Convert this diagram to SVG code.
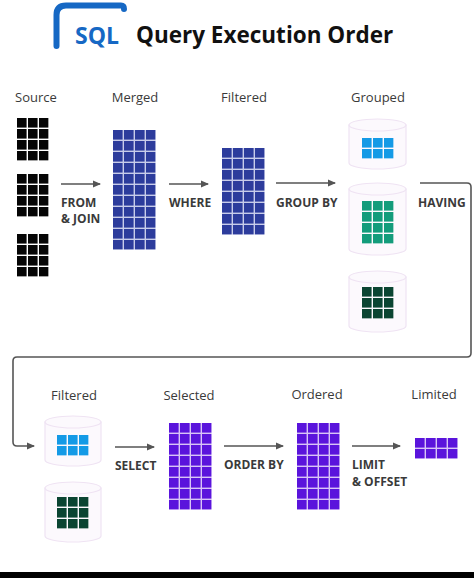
<svg xmlns="http://www.w3.org/2000/svg" width="474" height="578" viewBox="0 0 474 578">
<defs>
<style>
.ttl{font-family:"Open Sans","Liberation Sans",sans-serif;font-size:13px;fill:#3a3a3a;text-anchor:middle}
.lbl{font-family:"Open Sans","Liberation Sans",sans-serif;font-size:12px;font-weight:bold;fill:#3a3a3a}
.conn{fill:none;stroke:#555;stroke-width:1.6}
.cyl{fill:#fcf9fd;stroke:#efe3f3;stroke-width:1.2}
</style>
<marker id="ah" markerWidth="8" markerHeight="8" refX="7" refY="4" orient="auto" markerUnits="userSpaceOnUse">
<path d="M0,0.5 L8,4 L0,7.5 Z" fill="#555"/>
</marker>
<pattern id="pk" width="11" height="11" patternUnits="userSpaceOnUse"><rect width="9.6" height="9.6" fill="#050505"/></pattern>
<pattern id="pb" width="11" height="11" patternUnits="userSpaceOnUse"><rect width="9.6" height="9.6" fill="#2d3c9c"/></pattern>
<pattern id="pl" width="11" height="11" patternUnits="userSpaceOnUse"><rect width="9.6" height="9.6" fill="#149ae6"/></pattern>
<pattern id="pt" width="11" height="11" patternUnits="userSpaceOnUse"><rect width="9.6" height="9.6" fill="#139c7b"/></pattern>
<pattern id="pd" width="11" height="11" patternUnits="userSpaceOnUse"><rect width="9.6" height="9.6" fill="#0b4532"/></pattern>
<pattern id="pp" width="11" height="11" patternUnits="userSpaceOnUse"><rect width="9.6" height="9.6" fill="#5a14dc"/></pattern>
</defs>
<rect width="474" height="578" fill="#fff"/>
<g id="header">
<path d="M56.5,46 V15 Q56.5,5.5 66,5.5 H121 Q124,5.5 124,9" fill="none" stroke="#1668c4" stroke-width="6" stroke-linecap="round"/>
<text x="75" y="44" font-family="'Open Sans','Liberation Sans',sans-serif" font-size="23" font-weight="bold" fill="#1668c4">SQL</text>
<text x="136" y="43" font-family="'Open Sans','Liberation Sans',sans-serif" font-size="22.5" font-weight="bold" fill="#111">Query Execution Order</text>
</g>
<g id="connectors">
<line class="conn" x1="61" y1="184" x2="100" y2="184" marker-end="url(#ah)"/>
<line class="conn" x1="169" y1="184" x2="208" y2="184" marker-end="url(#ah)"/>
<line class="conn" x1="276" y1="183" x2="335" y2="183" marker-end="url(#ah)"/>
<path class="conn" d="M420,183 H467 Q471,183 471,187 V353 Q471,357 467,357 H17 Q13,357 13,361 V442 Q13,446 17,446 H34" marker-end="url(#ah)"/>
<line class="conn" x1="115" y1="447" x2="154" y2="447" marker-end="url(#ah)"/>
<line class="conn" x1="224" y1="446" x2="283" y2="446" marker-end="url(#ah)"/>
<line class="conn" x1="352" y1="446" x2="400" y2="446" marker-end="url(#ah)"/>
<text class="lbl" x="61" y="207">FROM</text>
<text class="lbl" x="61" y="223">&amp; JOIN</text>
<text class="lbl" x="169" y="207">WHERE</text>
<text class="lbl" x="276" y="207">GROUP BY</text>
<text class="lbl" x="418" y="207">HAVING</text>
<text class="lbl" x="115" y="470">SELECT</text>
<text class="lbl" x="224" y="469">ORDER BY</text>
<text class="lbl" x="352" y="469">LIMIT</text>
<text class="lbl" x="352" y="486">&amp; OFFSET</text>
</g>
<g id="source">
<text class="ttl" x="36" y="102">Source</text>
<g transform="translate(17,118)"><rect width="31.6" height="42.6" fill="url(#pk)"/></g>
<g transform="translate(17,174)"><rect width="31.6" height="42.6" fill="url(#pk)"/></g>
<g transform="translate(17,234)"><rect width="31.6" height="42.6" fill="url(#pk)"/></g>
</g>
<g id="merged">
<text class="ttl" x="135" y="102">Merged</text>
<g transform="translate(113,130)"><rect width="42.6" height="119.6" fill="#c9cdea"/><rect width="42.6" height="119.6" fill="url(#pb)"/></g>
</g>
<g id="filtered1">
<text class="ttl" x="244" y="102">Filtered</text>
<g transform="translate(222,148)"><rect width="42.6" height="86.6" fill="#c9cdea"/><rect width="42.6" height="86.6" fill="url(#pb)"/></g>
</g>
<g id="grouped">
<text class="ttl" x="378" y="102">Grouped</text>
<path class="cyl" d="M349,125 V163 A28.5,6 0 0 0 406,163 V125 Z"/>
<ellipse class="cyl" cx="377.5" cy="125" rx="28.5" ry="6"/>
<g transform="translate(362,138)"><rect width="31.6" height="20.6" fill="url(#pl)"/></g>
<path class="cyl" d="M349,189 V249 A28.5,6 0 0 0 406,249 V189 Z"/>
<ellipse class="cyl" cx="377.5" cy="189" rx="28.5" ry="6"/>
<g transform="translate(362,201)"><rect width="31.6" height="42.6" fill="url(#pt)"/></g>
<path class="cyl" d="M349,277 V326 A28.5,6 0 0 0 406,326 V277 Z"/>
<ellipse class="cyl" cx="377.5" cy="277" rx="28.5" ry="6"/>
<g transform="translate(362,287)"><rect width="31.6" height="31.6" fill="url(#pd)"/></g>
</g>
<g id="filtered2">
<text class="ttl" x="74" y="400">Filtered</text>
<path class="cyl" d="M45,422 V460 A28,6 0 0 0 101,460 V422 Z"/>
<ellipse class="cyl" cx="73" cy="422" rx="28" ry="6"/>
<g transform="translate(57,435)"><rect width="31.6" height="20.6" fill="url(#pl)"/></g>
<path class="cyl" d="M45,488 V536 A28,6 0 0 0 101,536 V488 Z"/>
<ellipse class="cyl" cx="73" cy="488" rx="28" ry="6"/>
<g transform="translate(57,497)"><rect width="31.6" height="31.6" fill="url(#pd)"/></g>
</g>
<g id="selected">
<text class="ttl" x="189" y="400">Selected</text>
<g transform="translate(169,423)"><rect width="42.6" height="86.6" fill="#d8c4f6"/><rect width="42.6" height="86.6" fill="url(#pp)"/></g>
</g>
<g id="ordered">
<text class="ttl" x="317" y="399">Ordered</text>
<g transform="translate(297,423)"><rect width="42.6" height="86.6" fill="#d8c4f6"/><rect width="42.6" height="86.6" fill="url(#pp)"/></g>
</g>
<g id="limited">
<text class="ttl" x="434" y="399">Limited</text>
<g transform="translate(415,438)"><rect width="42.6" height="20.6" fill="#d8c4f6"/><rect width="42.6" height="20.6" fill="url(#pp)"/></g>
</g>
<rect x="0" y="572" width="474" height="6" fill="#000"/>
</svg>
